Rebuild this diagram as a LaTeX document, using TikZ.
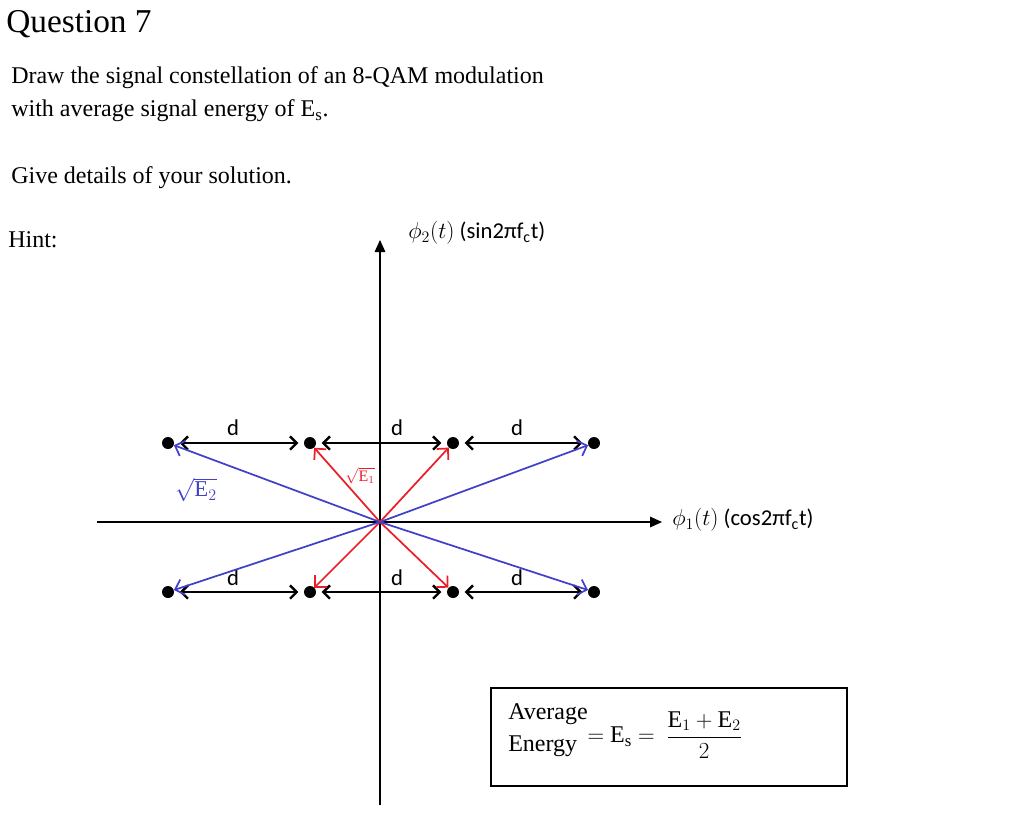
\documentclass[tikz,border=0pt]{standalone}
\usepackage{fontspec}
\setmainfont{Liberation Serif}
\newfontfamily\carlitofont{Carlito}
\usetikzlibrary{arrows.meta}
\begin{document}
\begin{tikzpicture}[x=0.75pt,y=-0.75pt,
  dot/.style={circle,fill=black,inner sep=0pt,minimum size=9pt},
  darr/.style={line width=1.8pt,{Straight Barb[length=5pt,width=10pt]}-{Straight Barb[length=5pt,width=10pt]},shorten <=4pt,shorten >=4pt},
  redv/.style={draw={rgb,255:red,235;green,30;blue,40},line width=1.3pt,-{Straight Barb[length=6pt,width=12pt]}},
  bluv/.style={draw={rgb,255:red,65;green,65;blue,200},line width=1.3pt,-{Straight Barb[length=6pt,width=12pt]}},
  txt/.style={anchor=west,inner sep=0pt,font=\fontsize{18}{21}\selectfont},
  lab/.style={inner sep=0pt,font=\carlitofont\fontsize{17}{20}\selectfont}]
\useasboundingbox (0,0) rectangle (1026,819);
\node[anchor=west,inner sep=0pt,font=\fontsize{25}{28}\selectfont] (q) at (6,24) {Question 7};
\node[txt] (t1) at (11,78) {Draw the signal constellation of an 8-QAM modulation};
\node[txt] (t2) at (11,111) {with average signal energy of E\textsubscript{s}.};
\node[txt] (t3) at (11,178) {Give details of your solution.};
\node[txt] (hint) at (8,240) {Hint:};
% axes
\coordinate (o) at (380,522);
\coordinate (xl) at (97,522);
\coordinate (xr) at (662,522);
\coordinate (yb) at (380,805);
\coordinate (yt) at (380,240);
\draw[line width=0.8pt,-{Triangle[length=9pt,width=8pt]}] (xl) -- (xr);
\draw[line width=0.8pt,-{Triangle[length=9pt,width=8pt]}] (yb) -- (yt);
\node[lab,anchor=west] (xlab) at (672,520) {$\phi_1(t)$ (cos2πf\textsubscript{c}t)};
\node[lab,anchor=west] (ylab) at (408,233) {$\phi_2(t)$ (sin2πf\textsubscript{c}t)};
% points
\foreach \n/\x in {1/168,2/310,3/453,4/594}{
  \node[dot] (a\n) at (\x,443) {};
  \node[dot] (b\n) at (\x,592) {};
}
\draw[darr] (a1) -- (a2); \draw[darr] (a2) -- (a3); \draw[darr] (a3) -- (a4);
\draw[darr] (b1) -- (b2); \draw[darr] (b2) -- (b3); \draw[darr] (b3) -- (b4);
\foreach \x in {233,397,517}{
  \node[lab] at (\x,428) {d};
  \node[lab] at (\x,578) {d};
}
\draw[redv] (o) -- (a2); \draw[redv] (o) -- (a3);
\draw[redv] (o) -- (b2); \draw[redv] (o) -- (b3);
\draw[bluv] (o) -- (a1); \draw[bluv] (o) -- (a4);
\draw[bluv] (o) -- (b1); \draw[bluv] (o) -- (b4);
\node[inner sep=0pt,text={rgb,255:red,235;green,30;blue,40},font=\fontsize{12}{14}\selectfont] (e1) at (360,476) {$\sqrt{\mathrm{E}_1}$};
\node[inner sep=0pt,text={rgb,255:red,65;green,65;blue,200},font=\fontsize{17}{20}\selectfont] (e2) at (196,490) {$\sqrt{\mathrm{E}_2}$};
% box
\node[draw,line width=1.5pt,minimum width=267pt,minimum height=73.5pt,anchor=north west] (box) at (490,687) {};
\node[anchor=west,inner sep=0pt,align=left,font=\fontsize{18}{24}\selectfont] (avg) at (508,730) {Average\\Energy};
\node[inner sep=0pt,font=\fontsize{18}{21}\selectfont] (eq) at (665,735) {$=$ E\textsubscript{s} $=$ \hspace{4pt}$\displaystyle\frac{\mathrm{E}_1+\mathrm{E}_2}{2}$};
\end{tikzpicture}
\end{document}
